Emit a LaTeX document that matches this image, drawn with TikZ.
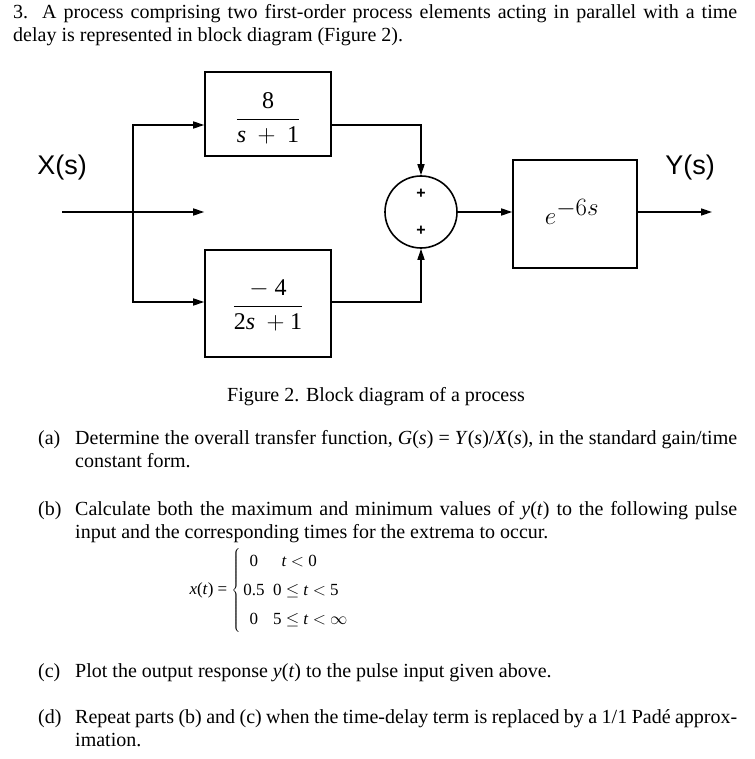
\documentclass[tikz,border=0pt]{standalone}
\usepackage{fontspec}
\setmainfont{Liberation Serif}
\setsansfont{Liberation Sans}
\usetikzlibrary{arrows.meta}
\begin{document}
\begin{tikzpicture}[x=1pt,y=-1pt,
  blk/.style={draw,line width=1.6pt,minimum width=126pt},
  wire/.style={line width=1.6pt},
  arr/.style={wire,-{Triangle[length=11pt,width=7pt]}},
  para/.style={anchor=north west,inner sep=0pt,align=justify,font=\fontsize{20}{23.5}\selectfont}]
\useasboundingbox (0,0) rectangle (754,759);
\node[para,text width=724pt] (title) at (13,4) {3.\ \ A process comprising two first-order process elements acting in parallel with a time delay is represented in block diagram (Figure 2).};
\node[blk,minimum height=84pt] (b1) at (268,114) {};
\node[blk,minimum height=107pt] (b2) at (268,303.5) {};
\node[blk,minimum width=124pt,minimum height=108pt] (b3) at (575,214) {};
\node[draw,circle,line width=1.6pt,minimum size=72pt] (sum) at (421,212) {};
\node[font=\fontsize{24}{24}\selectfont] (f1) at (268,118) {$\displaystyle\frac{\mathrm{8}}{\mathit{s}\ +\ \mathrm{1}}$};
\node[font=\fontsize{24}{24}\selectfont] (f2) at (268,305) {$\displaystyle\frac{-\ \mathrm{4}}{\mathrm{2}\mathit{s}\ +\mathrm{1}}$};
\node[font=\fontsize{36}{36}\selectfont] (f3) at (572,212) {$e^{-6s}$};
\node[font=\bfseries\sffamily\fontsize{16}{16}\selectfont] (p1) at (421,194) {+};
\node[font=\bfseries\sffamily\fontsize{16}{16}\selectfont] (p2) at (421,231) {+};
\node[font=\sffamily\fontsize{27}{28}\selectfont] (X) at (62,168) {X(s)};
\node[font=\sffamily\fontsize{27}{28}\selectfont] (Y) at (690,168) {Y(s)};
\coordinate (in) at (62,212);
\coordinate (br) at (133,212);
\coordinate (out) at (712,212);
\draw[arr] (in) -- (b2.west |- br) ;
\draw[arr] (br) |- (b1.west |- 0,125);
\draw[arr] (br) |- (b2.west |- 0,302);
\draw[arr] (b1.east |- 0,125) -| (sum.north);
\draw[arr] (b2.east |- 0,302) -| (sum.south);
\draw[arr] (sum.east) -- (b3.west |- sum);
\draw[arr] (b3.east |- sum) -- (out);
\node[font=\fontsize{20}{20}\selectfont] (cap) at (376,397) {Figure 2. Block diagram of a process};
\node[para] (la) at (38,430) {(a)};
\node[para,text width=662pt] (ta) at (75,430) {Determine the overall transfer function, \textit{G}(\textit{s}) = \textit{Y}(\textit{s})/\textit{X}(\textit{s}), in the standard gain/time constant form.};
\node[para] (lb) at (38,501) {(b)};
\node[para,text width=662pt] (tb) at (75,501) {Calculate both the maximum and minimum values of \textit{y}(\textit{t}) to the following pulse input and the corresponding times for the extrema to occur.};
\node[font=\fontsize{17}{18}\selectfont,anchor=west] (pw) at (186,590) {\renewcommand{\arraystretch}{1.6}\textit{x}(\textit{t}) = $\left\{\begin{tabular}{@{\,}c@{\ \ }l}0 & \ \ \textit{t} $<$ 0\\ 0.5 & 0 $\le$ \textit{t} $<$ 5\\ 0 & 5 $\le$ \textit{t} $<$ $\infty$\end{tabular}\right.$};
\node[para] (lc) at (38,663) {(c)};
\node[para,text width=662pt] (tc) at (75,663) {Plot the output response \textit{y}(\textit{t}) to the pulse input given above.};
\node[para] (ld) at (38,709) {(d)};
\node[para,text width=662pt] (td) at (75,709) {Repeat parts (b) and (c) when the time-delay term is replaced by a 1/1 Padé approximation.};
\end{tikzpicture}
\end{document}
